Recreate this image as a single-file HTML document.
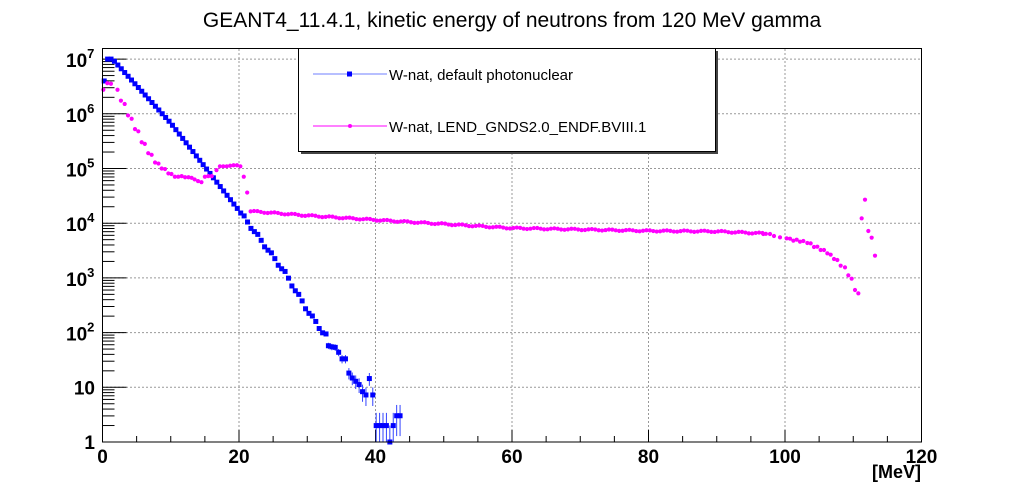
<!DOCTYPE html>
<html><head><meta charset="utf-8"><style>
html,body{margin:0;padding:0;background:#fff;}
svg{display:block;font-family:"Liberation Sans",sans-serif;}
</style></head><body>
<svg id="s" width="1024" height="492" xmlns="http://www.w3.org/2000/svg">
<rect width="1024" height="492" fill="#fff"/>
<text x="512" y="27" font-size="21" text-anchor="middle">GEANT4_11.4.1, kinetic energy of neutrons from 120 MeV gamma</text>
<g id="grid" stroke="#999" stroke-width="1" stroke-dasharray="2,2"></g>
<g id="ticks" stroke="#000" stroke-width="1"></g>
<g id="data"></g>
<rect x="102.5" y="48.5" width="819" height="393.5" fill="none" stroke="#000" stroke-width="1"/>
<g font-weight="bold" font-size="19" id="labels"></g>
<text x="921" y="478" font-size="18" font-weight="bold" text-anchor="end">[MeV]</text>
<rect x="301" y="51" width="417" height="103" fill="#444"/>
<rect x="298.5" y="48.5" width="417" height="103" fill="#fff" stroke="#000"/>
<line x1="313" y1="74" x2="387" y2="74" stroke="#6f7fff" stroke-width="1"/>
<rect x="347" y="71.5" width="5" height="5" fill="#0000ff"/>
<text x="389" y="80" font-size="15">W-nat, default photonuclear</text>
<line x1="313" y1="126" x2="387" y2="126" stroke="#ff00ff" stroke-width="1"/>
<circle cx="350" cy="126" r="2" fill="#ff00ff"/>
<text x="389" y="132" font-size="15">W-nat, LEND_GNDS2.0_ENDF.BVIII.1</text>
</svg>
<script>
var NS="http://www.w3.org/2000/svg";
function X(e){return 102.5+6.825*e;}
function Y(l){return 442-54.7*l;}
function el(p,t,a,txt){var e=document.createElementNS(NS,t);for(var k in a)e.setAttribute(k,a[k]);if(txt!==undefined)e.textContent=txt;document.getElementById(p).appendChild(e);return e;}
for(var e=20;e<=100;e+=20)el("grid","line",{x1:X(e),x2:X(e),y1:49,y2:442});
for(var d=1;d<=7;d++)el("grid","line",{x1:102,x2:921,y1:Y(d),y2:Y(d)});
for(var e=0;e<=120;e+=5){var L=(e%20==0)?12:6;el("ticks","line",{x1:X(e),x2:X(e),y1:442,y2:442-L});}
for(var d=0;d<=7;d++){for(var m=1;m<10;m++){var l=d+Math.log10(m);if(l>7.22)break;var L=(m==1)?24:12;el("ticks","line",{x1:102.5,x2:102.5+L,y1:Y(l),y2:Y(l)});}}
for(var e=0;e<=120;e+=20)el("labels","text",{x:X(e),y:463,"text-anchor":"middle"},String(e));
el("labels","text",{x:95,y:Y(0)+7,"text-anchor":"end"},"1");
el("labels","text",{x:95,y:Y(1)+7,"text-anchor":"end"},"10");
for(var d=2;d<=7;d++){var t=el("labels","text",{x:66,y:Y(d)+8});t.textContent="10";var ts=document.createElementNS(NS,"tspan");ts.setAttribute("font-size","13");ts.setAttribute("dy","-9");ts.textContent=d;t.appendChild(ts);}
function interp(a,x){for(var i=0;i<a.length-1;i++){if(x>=a[i][0]&&x<=a[i+1][0]){var f=(x-a[i][0])/(a[i+1][0]-a[i][0]);return a[i][1]+f*(a[i+1][1]-a[i][1]);}}return a[a.length-1][1];}
var bA=[[0.25,6.6],[0.75,7.0],[1.25,7.0],[1.75,6.96],[10,5.83],[20,4.23],[23.2,3.69],[26.7,3.1],[30,2.41],[32.6,1.95]];
var blue=[];
for(var e=0.25;e<33;e+=0.5){var n=(e>20)?0.03*Math.sin(e*3.1):0;blue.push([e,interp(bA,e)+n]);}
var tail=[[33.1,1.76],[33.6,1.74],[34.1,1.73],[34.6,1.64],[35.1,1.52],[35.6,1.52],[36.1,1.26],[36.6,1.17],[37.1,1.11],[37.6,1.05],[38.1,0.92],[38.6,0.86],[39.1,1.16],[39.6,0.86],[40.1,0.3],[40.6,0.3],[41.1,0.3],[41.6,0.3],[42.1,0],[42.6,0.3],[43.1,0.48],[43.6,0.48]];
blue=blue.concat(tail);
blue.forEach(function(p){var x=X(p[0]),y=Y(p[1]);
 if(p[0]>33){var v=Math.pow(10,p[1]),s=Math.sqrt(v);var y1=Y(Math.log10(v+s)),y2=(v-s>0.5)?Y(Math.log10(v-s)):442;el("data","line",{x1:x,x2:x,y1:y1,y2:Math.min(y2,442),stroke:"#3344ff","stroke-width":1});}
 el("data","rect",{x:x-2.5,y:y-2.5,width:5,height:5,fill:"#0000ff"});});
var mg=[[0.12,6.44],[0.7,6.56],[1.24,6.55],[2.2,6.44],[2.7,6.24],[3.25,6.18],[3.74,5.97],[4.27,5.91],[4.76,5.72],[5.25,5.68],[5.74,5.48],[6.2,5.45],[6.7,5.28],[7.2,5.25],[7.7,5.11],[8.2,5.09],[8.67,5.0],[9.16,4.99],[9.65,4.91],[10.1,4.9],[10.6,4.85],[11.1,4.85],[11.6,4.86],[12.1,4.84],[12.6,4.84],[13.06,4.83],[13.5,4.80],[14.0,4.77],[14.5,4.75],[15.0,4.85],[15.5,4.86],[16.0,4.86],[16.7,4.97],[17.2,5.04],[17.7,5.04],[18.2,5.04],[18.7,5.05],[19.2,5.06],[19.7,5.06],[20.2,5.04],[20.7,4.85],[21.2,4.56]];
var mA=[[21.7,4.22],[30,4.14],[40,4.06],[60,3.91],[80,3.86],[90,3.85],[97.5,3.81]];
for(var e=21.7;e<97.3;e+=0.5)mg.push([e,interp(mA,e)+0.012*Math.sin(e*2.3)]);
mg.forEach(function(p){el("data","circle",{cx:X(p[0]),cy:Y(p[1]),r:2.1,fill:"#ff00ff"});});
var zp=[[10,162],[30,162],[42,168],[60,172],[80,175],[90,176],[100,182],[110,179],[120,185],[130,183],[142,189],[152,190],[162,201],[172,200],[182,210],[192,210],[202,220],[212,224],[222,237],[232,240],[242,257],[255,262],[265,286],[275,296],[285,330],[295,340],[305,115],[315,59],[325,153],[335,173],[345,227]];
zp.forEach(function(p){el("data","circle",{cx:760+p[0]/3,cy:180+p[1]/3,r:2.1,fill:"#ff00ff"});});
</script>
</body></html>
